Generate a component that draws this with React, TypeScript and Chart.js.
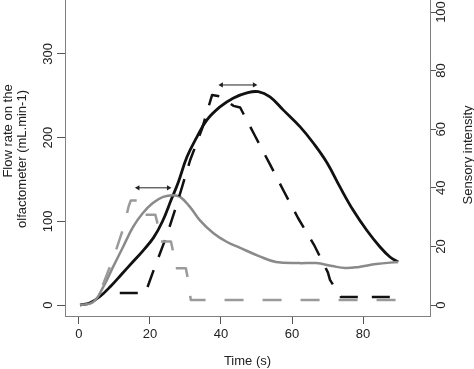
import React, { useEffect, useRef } from "react";
import { Chart, registerables } from "chart.js";

Chart.register(...registerables);

// ---- axis ticks & titles ----
const timeTicks = [0, 20, 40, 60, 80];
const flowTicks = [0, 100, 200, 300];
const sensoryTicks = [0, 20, 40, 60, 80, 100];
const xTitle = "Time (s)";
const leftTitle = ["Flow rate on the", "olfactometer (mL.min-1)"];
const rightTitle = "Sensory intensity";

// ---- sensory intensity, black solid (right axis) ----
const blackSolidT = [0.3, 3, 6, 9, 12, 15, 18, 21, 23.5, 26, 28, 30.4, 33.2, 36, 39.7, 43.4, 47.3, 50.5, 53.8, 57.5, 62.3, 66, 69.9, 73.5, 77.2, 81, 84.8, 87.6, 89.9];
const blackSolidV = [0, 0.7, 3, 6.5, 10.5, 14.5, 18.5, 23, 28.5, 36, 42, 50.5, 57.3, 63.1, 67.6, 70.6, 72.4, 72.8, 71, 66.6, 60.8, 55.3, 48.5, 40.3, 32.4, 25.6, 19.8, 16.4, 14.7];

// ---- sensory intensity, grey solid (right axis) ----
const greySolidT = [0.3, 4, 6.8, 9.6, 12.4, 15.2, 18, 20.8, 23.7, 26.5, 28.5, 31.3, 34, 37.8, 41.7, 45.4, 50.7, 55.5, 62, 66.8, 71.3, 75, 78.9, 83.7, 89.9];
const greySolidV = [0, 1, 6.1, 13, 19.8, 26.6, 31.4, 34.8, 36.9, 37.5, 36.9, 33.4, 29, 24.6, 21.5, 19.5, 16.7, 14.7, 14.3, 14.3, 13.3, 12.6, 13, 14, 14.7];

// ---- flow rate, grey dashed (left axis) ----
const greyDashT = [4.5, 7, 10, 12.5, 14, 14.6, 16.6, 17.3, 18, 21.5, 22.2, 22.8, 25.9, 26.4, 27, 30.1, 30.6, 31.5, 90];
const greyDashV = [6, 27, 60, 92, 118, 125, 125, 117, 108, 108, 96, 76, 76, 66, 44, 44, 33, 6, 6];

// ---- flow rate, black dashed (left axis) ----
const blackDashT = [10.1, 11.3, 18.7, 20.8, 24.8, 27.9, 31.3, 34.6, 37.5, 40, 43.5, 45.4, 49.6, 53.8, 57.7, 61.7, 66.2, 70.1, 70.7, 73.8, 88.5];
const blackDashV = [8.4, 14.3, 14.3, 39, 84, 125, 173, 210, 251, 249, 238, 236, 202, 168, 136, 104, 72, 39, 30, 9.5, 9.5];

// ---- double-headed arrows (right axis) ----
const arrow1T = [16.6, 25.2];
const arrow1V = [40, 40];
const arrow2T = [40.1, 49.4];
const arrow2V = [75.1, 75.1];

const pts = (t: number[], v: number[]) => t.map((x, i) => ({ x, y: v[i] }));

const FONT = '"Liberation Sans", Arial, Helvetica, sans-serif';

const sideTitles = {
  id: "sideTitles",
  afterDraw(chart: any) {
    const ctx = chart.ctx as CanvasRenderingContext2D;
    ctx.save();
    ctx.font = `13px ${FONT}`;
    ctx.fillStyle = "#222";
    ctx.textBaseline = "middle";
    ctx.textAlign = "center";
    const draw = (text: string, x: number, y: number) => {
      ctx.save();
      ctx.translate(x, y);
      ctx.rotate(-Math.PI / 2);
      ctx.fillText(text, 0, 0);
      ctx.restore();
    };
    draw(leftTitle[0], 8.5, 131);
    draw(leftTitle[1], 22, 159);
    draw(rightTitle, 468, 155);
    ctx.restore();
  },
};

const noPad = (s: any) => {
  s.paddingTop = 0;
  s.paddingBottom = 0;
  s.paddingLeft = 0;
  s.paddingRight = 0;
};

export default function App() {
  const ref = useRef<HTMLCanvasElement | null>(null);

  useEffect(() => {
    if (!ref.current) return;
    const axisGrey = "#808080";
    const tickFont = { family: FONT, size: 13 };
    const arrow = (t: number[], v: number[]) => ({
      data: pts(t, v),
      yAxisID: "y2",
      borderColor: "#222",
      borderWidth: 1,
      pointStyle: "triangle",
      pointRadius: 3,
      pointRotation: [-90, 90],
      pointBackgroundColor: "#222",
      pointBorderColor: "#222",
      pointBorderWidth: 0,
    });
    const chart = new Chart(ref.current, {
      type: "line",
      data: {
        datasets: [
          {
            label: "grey dashed",
            data: pts(greyDashT, greyDashV),
            yAxisID: "y",
            borderColor: "#9a9a9a",
            borderWidth: 2.5,
            borderDash: [19, 19],
            borderDashOffset: 21,
            tension: 0,
            pointRadius: 0,
            borderJoinStyle: "round",
          },
          {
            label: "black dashed",
            data: pts(blackDashT, blackDashV),
            yAxisID: "y",
            borderColor: "#111",
            borderWidth: 2.5,
            borderDash: [18, 14],
            borderDashOffset: 24.8,
            tension: 0,
            pointRadius: 0,
            borderJoinStyle: "round",
          },
          {
            label: "grey solid",
            data: pts(greySolidT, greySolidV),
            yAxisID: "y2",
            borderColor: "#8a8a8a",
            borderWidth: 2.5,
            tension: 0.4,
            pointRadius: 0,
          },
          {
            label: "black solid",
            data: pts(blackSolidT, blackSolidV),
            yAxisID: "y2",
            borderColor: "#111",
            borderWidth: 2.8,
            tension: 0.4,
            pointRadius: 0,
          },
          { label: "arrow 1", ...arrow(arrow1T, arrow1V) },
          { label: "arrow 2", ...arrow(arrow2T, arrow2V) },
        ],
      } as any,
      options: {
        animation: false,
        responsive: false,
        maintainAspectRatio: false,
        devicePixelRatio: 1,
        layout: { padding: 0, autoPadding: false },
        plugins: {
          legend: { display: false },
          tooltip: { enabled: false },
        },
        scales: {
          x: {
            type: "linear",
            position: "bottom",
            min: -3.94,
            max: 98.87,
            afterBuildTicks: (s: any) => {
              s.ticks = timeTicks.map((v) => ({ value: v }));
            },
            afterFit: (s: any) => {
              s.height = 53;
              noPad(s);
            },
            grid: { drawOnChartArea: false, drawTicks: true, tickLength: 8, color: "#555" },
            border: { display: true, color: axisGrey, width: 1 },
            ticks: { font: tickFont, color: "#222", padding: 3, maxRotation: 0, minRotation: 0 },
            title: { display: true, text: xTitle, font: tickFont, color: "#222", padding: { top: 0, bottom: 0 } },
          },
          y: {
            type: "linear",
            position: "left",
            min: -13.1,
            max: 364.5,
            afterBuildTicks: (s: any) => {
              s.ticks = flowTicks.map((v) => ({ value: v }));
            },
            afterFit: (s: any) => {
              s.width = 65;
              noPad(s);
            },
            grid: { drawOnChartArea: false, drawTicks: true, tickLength: 8, color: "#555" },
            border: { display: true, color: axisGrey, width: 1 },
            ticks: { font: tickFont, color: "#222", padding: -2, minRotation: 90, maxRotation: 90, crossAlign: "center" },
          },
          y2: {
            type: "linear",
            position: "right",
            min: -3.75,
            max: 104.1,
            afterBuildTicks: (s: any) => {
              s.ticks = sensoryTicks.map((v) => ({ value: v }));
            },
            afterFit: (s: any) => {
              s.width = 44;
              noPad(s);
            },
            grid: { drawOnChartArea: false, drawTicks: true, tickLength: 6, color: "#555" },
            border: { display: true, color: axisGrey, width: 1 },
            ticks: { font: tickFont, color: "#222", padding: -5, minRotation: 90, maxRotation: 90, crossAlign: "center" },
          },
        },
      } as any,
      plugins: [sideTitles],
    });
    return () => chart.destroy();
  }, []);

  return (
    <div style={{ position: "fixed", left: 0, top: 0, width: 474, height: 369, background: "#fff" }}>
      <canvas ref={ref} width={474} height={369} style={{ display: "block" }} />
    </div>
  );
}
